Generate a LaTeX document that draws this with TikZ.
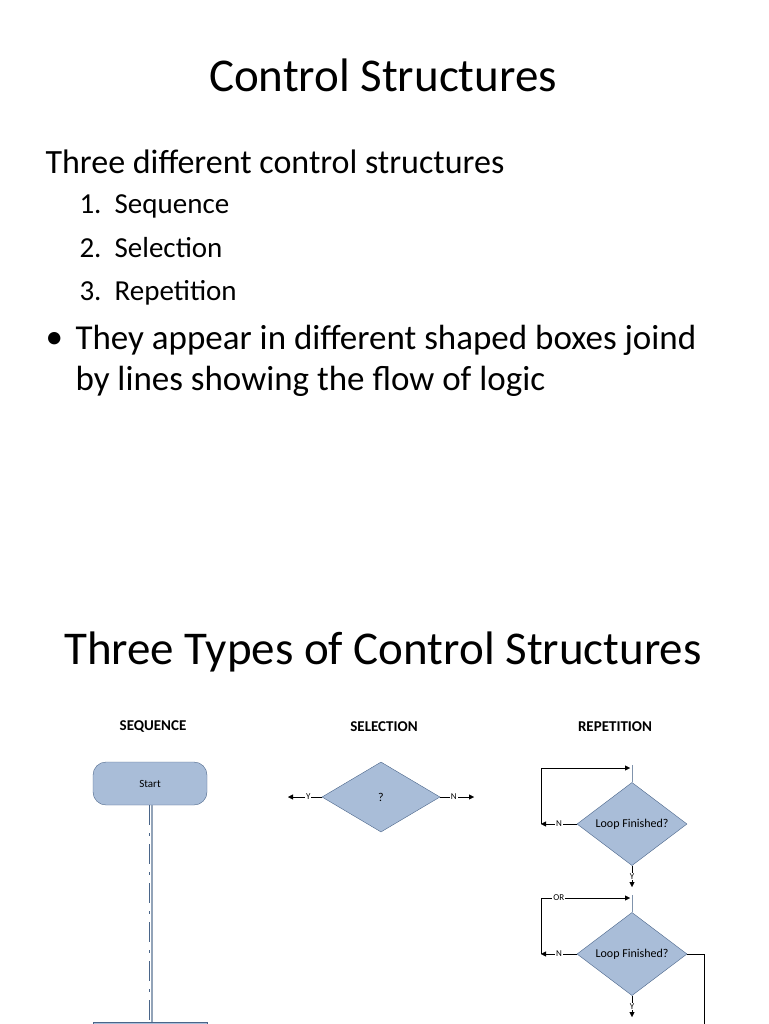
\documentclass[tikz,border=0pt]{standalone}
\usepackage{fontspec}
\setmainfont{Carlito}
\usetikzlibrary{shapes.geometric,arrows.meta}
\definecolor{fillb}{HTML}{A9BDD8}
\definecolor{edgeb}{HTML}{4A6589}
\tikzset{
  dia/.style 2 args={diamond,draw=edgeb,fill=fillb,minimum width=#1,minimum height=#2,inner sep=0pt,font=\fontsize{12}{13}\selectfont},
  term/.style={draw=edgeb,fill=fillb,rounded corners=13pt,minimum width=114pt,minimum height=43pt,font=\fontsize{11}{12}\selectfont},
  lbl/.style={font=\fontsize{9}{10}\selectfont,fill=white,inner sep=1pt},
  hd/.style={font=\fontsize{15}{16}\selectfont\bfseries},
  ar/.style={-{Triangle[length=5pt,width=5pt]},black}
}
\begin{document}
\begin{tikzpicture}[x=1pt,y=-1pt]
\useasboundingbox (0,0) rectangle (768,1024);
\node (t1) at (383,75) {\fontsize{47}{50}\selectfont Control Structures};
\node[anchor=west] (s1) at (42,162) {\fontsize{34}{38}\selectfont Three different control structures};
\node[anchor=west] (n1) at (76,206) {\fontsize{29}{32}\selectfont 1.\ \ Sequence};
\node[anchor=west] (n2) at (76,248) {\fontsize{29}{32}\selectfont 2.\ \ Selection};
\node[anchor=west] (n3) at (76,293) {\fontsize{29}{32}\selectfont 3.\ \ Repetition};
\node[anchor=west] (bu) at (42,340) {\fontsize{35}{38}\selectfont •};
\node[anchor=west] (b1) at (72,340) {\fontsize{35}{38}\selectfont They appear in different shaped boxes joind};
\node[anchor=west] (b2) at (72,381) {\fontsize{35}{38}\selectfont by lines showing the flow of logic};
\node (t2) at (383,652) {\fontsize{47}{50}\selectfont Three Types of Control Structures};
\node[hd] (h1) at (153,727) {SEQUENCE};
\node[hd] (h2) at (384,727) {SELECTION};
\node[hd] (h3) at (615,727) {REPETITION};
% sequence
\node[term] (start) at (150,783.5) {Start};
\draw[edgeb!60,line width=1.2pt] (start.south) ++(2,0) -- ++(0,241);
\draw[edgeb,line width=1pt,dash pattern=on 20pt off 8pt on 3pt off 8pt] (start.south) ++(-1,0) -- ++(0,241);
\draw[draw=edgeb,fill=fillb] (93,1022) rectangle (207,1040);
% selection
\node[dia={118pt}{70pt}] (q) at (381,797) {?};
\coordinate (qy) at (288,797);
\coordinate (qn) at (474,797);
\draw[ar] (q.west) -- node[lbl,pos=0.4]{Y} (qy);
\draw[ar] (q.east) -- node[lbl,pos=0.4]{N} (qn);
% repetition 1
\node[dia={110pt}{66pt}] (l1) at (632,824) {Loop Finished?};
\coordinate (a1) at (541,824);
\coordinate (a2) at (541,768);
\coordinate (a3) at (630,768);
\draw[ar] (l1.west) -- node[lbl,pos=0.5]{N} (a1);
\draw[black] (a1) -- (a2);
\draw[ar] (a2) -- (a3);
\draw[edgeb!70,line width=1pt] (632,765) -- (l1.north);
\coordinate (y1) at (632,887);
\draw[ar] (l1.south) -- node[lbl,pos=0.5]{Y} (y1);
% repetition 2
\node[dia={110pt}{66pt}] (l2) at (632,954) {Loop Finished?};
\coordinate (b1c) at (541,954);
\coordinate (b2c) at (541,898);
\coordinate (b3c) at (630,898);
\draw[ar] (l2.west) -- node[lbl,pos=0.5]{N} (b1c);
\draw[black] (b1c) -- (b2c);
\draw[ar] (b2c) -- node[lbl,pos=0.2]{OR} (b3c);
\draw[edgeb!70,line width=1pt] (632,895) -- (l2.north);
\coordinate (y2) at (632,1017);
\draw[ar] (l2.south) -- node[lbl,pos=0.5]{Y} (y2);
\coordinate (r1) at (704,954);
\coordinate (r2) at (704,1024);
\draw[black] (l2.east) -- (r1) -- (r2);
\end{tikzpicture}
\end{document}
